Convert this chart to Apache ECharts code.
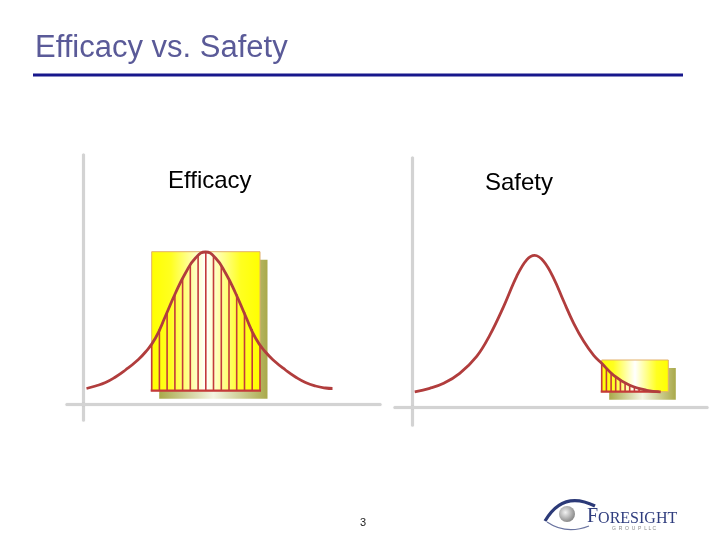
<!DOCTYPE html>
<html>
<head>
<meta charset="utf-8">
<title>Efficacy vs. Safety</title>
<script src="https://cdn.jsdelivr.net/npm/echarts@6.0.0/dist/echarts.min.js"></script>
<style>
html, body { margin: 0; padding: 0; background: #fff; }
#main { width: 720px; height: 540px; }
</style>
</head>
<body>
<div id="main"></div>
<script>
var efficacyX = [0.3, 1.2, 2.2, 3.2, 4.2, 5.2, 6.2, 7.2, 8.2, 9.2, 10.2, 11.2, 12.2,
    13.2, 14.2, 15.2, 16.2, 17.2, 18.2, 19.2, 20.2, 21.2, 22.2, 23.2, 24.2, 24.9];
var efficacyY = [1.55, 1.8, 2.15, 2.7, 3.4, 4.2, 5.2, 6.6, 8.8, 11.1, 13.1, 14.6, 15.2,
    14.6, 13.1, 11.1, 8.8, 6.6, 5.2, 4.2, 3.4, 2.7, 2.15, 1.8, 1.6, 1.55];
// [xFrom, xTo, yFrom, yTo]
var efficacyBox = [6.82, 17.65, 1.33, 15.23];
var efficacyHatchX = [6.82, 7.59, 8.36, 9.14, 9.91, 10.68, 11.46, 12.23, 13.0, 13.78, 14.55, 15.32, 16.1, 16.87, 17.65];
var efficacyHatchY = [6.0, 7.5, 9.2, 11.0, 12.5, 13.8, 14.8, 15.2, 14.8, 13.8, 12.5, 11.0, 9.2, 7.5, 5.9];

var safetyX = [0.2, 1.7, 3.1, 4.7, 6.4, 7.7, 9.1, 10.4, 11.4, 12.2, 13.1, 14.1, 15.1,
    16.1, 17.1, 18.1, 18.9, 20.1, 21.7, 23.4, 24.8];
var safetyY = [1.55, 1.9, 2.4, 3.4, 5.1, 7.2, 10.1, 13.1, 14.75, 15.2, 14.6, 12.9, 10.6,
    8.4, 6.6, 5.2, 4.4, 3.2, 2.2, 1.7, 1.55];
var safetyBox = [18.9, 25.56, 1.56, 4.73];
var safetyHatchX = [18.9, 19.37, 19.84, 20.3, 20.77, 21.24, 21.7, 22.17, 22.64, 23.1, 23.57, 24.04, 24.5];
var safetyHatchY = [4.4, 3.93, 3.46, 3.05, 2.78, 2.5, 2.2, 2.05, 1.92, 1.79, 1.68, 1.62, 1.58];

var chartTitles = ['Efficacy', 'Safety'];
var slideTitle = 'Efficacy vs. Safety';
var pageNo = '3';

var curveColor = '#b13d3d';
var hatchColor = '#c43a3a';

function pairs(xs, ys) {
    return xs.map(function(x, i) {
        return [x, ys[i]];
    });
}

var boxFill = new echarts.graphic.LinearGradient(0, 0, 1, 0, [
    {offset: 0, color: '#ffff00'},
    {offset: 0.18, color: '#ffff20'},
    {offset: 0.5, color: '#ffffff'},
    {offset: 0.82, color: '#ffff20'},
    {offset: 1, color: '#ffff00'}
]);
var shadowFill = new echarts.graphic.LinearGradient(0, 0, 1, 0, [
    {offset: 0, color: '#a9a94a'},
    {offset: 0.5, color: '#f4f4e2'},
    {offset: 1, color: '#a9a94a'}
]);

function renderBox(params, api) {
    var p0 = api.coord([api.value(0), api.value(3)]);
    var p1 = api.coord([api.value(1), api.value(2)]);
    var w = p1[0] - p0[0];
    var h = p1[1] - p0[1];
    return {
        type: 'group',
        children: [{
            type: 'rect',
            shape: {x: p0[0] + 7.5, y: p0[1] + 8, width: w, height: h},
            style: {fill: shadowFill}
        }, {
            type: 'rect',
            shape: {x: p0[0], y: p0[1], width: w, height: h},
            style: {fill: boxFill, stroke: '#e2b06a', lineWidth: 1}
        }]
    };
}

function hatchRenderer(xs, base) {
    return function(params, api) {
        var top = api.coord([api.value(0), api.value(1)]);
        var bot = api.coord([api.value(0), base]);
        var children = [{
            type: 'line',
            shape: {x1: top[0], y1: top[1], x2: bot[0], y2: bot[1]},
            style: {stroke: hatchColor, lineWidth: 1.6}
        }];
        if (params.dataIndex === 0) {
            // bottom edge of the hatched area
            var end = api.coord([xs[xs.length - 1], base]);
            children.push({
                type: 'line',
                shape: {x1: bot[0] - 1, y1: bot[1], x2: end[0] + 1, y2: end[1]},
                style: {stroke: hatchColor, lineWidth: 2.2}
            });
        }
        return {type: 'group', children: children};
    };
}

var axisStyle = {
    show: true,
    onZero: true,
    lineStyle: {color: '#d3d3d3', width: 3, shadowColor: 'rgba(0,0,0,0.18)', shadowBlur: 1}
};

function valueAxis(idx, min, max) {
    return {
        type: 'value',
        gridIndex: idx,
        min: min,
        max: max,
        axisLine: axisStyle,
        axisTick: {show: false},
        axisLabel: {show: false},
        splitLine: {show: false}
    };
}

var chart = echarts.init(document.getElementById('main'), null, {renderer: 'canvas'});

var option = {
    backgroundColor: '#ffffff',
    animation: false,
    title: [{
        text: slideTitle,
        left: 30,
        top: 28,
        textStyle: {fontFamily: 'Liberation Sans, Arial, sans-serif', fontSize: 31, fontWeight: 'normal', color: '#5a5a98'}
    }, {
        text: chartTitles[0],
        left: 163,
        top: 164,
        textStyle: {fontFamily: 'Liberation Sans, Arial, sans-serif', fontSize: 24, fontWeight: 'normal', color: '#000'}
    }, {
        text: chartTitles[1],
        left: 480,
        top: 166,
        textStyle: {fontFamily: 'Liberation Sans, Arial, sans-serif', fontSize: 24, fontWeight: 'normal', color: '#000'}
    }, {
        text: pageNo,
        left: 355,
        top: 512,
        textStyle: {fontFamily: 'Liberation Sans, Arial, sans-serif', fontSize: 11, fontWeight: 'normal', color: '#222'}
    }],
    grid: [
        {left: 67, top: 155, width: 313, height: 265},
        {left: 395, top: 158, width: 312, height: 267}
    ],
    xAxis: [valueAxis(0, -1.65, 29.65), valueAxis(1, -1.77, 29.43)],
    yAxis: [valueAxis(0, -1.6, 24.9), valueAxis(1, -1.77, 24.93)],
    series: [{
        type: 'custom',
        xAxisIndex: 0,
        yAxisIndex: 0,
        z: 1,
        renderItem: renderBox,
        encode: {x: [0, 1], y: [2, 3]},
        data: [efficacyBox]
    }, {
        type: 'custom',
        xAxisIndex: 0,
        yAxisIndex: 0,
        z: 2,
        renderItem: hatchRenderer(efficacyHatchX, efficacyBox[2]),
        data: pairs(efficacyHatchX, efficacyHatchY)
    }, {
        type: 'line',
        xAxisIndex: 0,
        yAxisIndex: 0,
        z: 3,
        smooth: true,
        showSymbol: false,
        lineStyle: {color: curveColor, width: 2.8},
        data: pairs(efficacyX, efficacyY)
    }, {
        type: 'custom',
        xAxisIndex: 1,
        yAxisIndex: 1,
        z: 1,
        renderItem: renderBox,
        encode: {x: [0, 1], y: [2, 3]},
        data: [safetyBox]
    }, {
        type: 'custom',
        xAxisIndex: 1,
        yAxisIndex: 1,
        z: 2,
        renderItem: hatchRenderer(safetyHatchX, safetyBox[2]),
        data: pairs(safetyHatchX, safetyHatchY)
    }, {
        type: 'line',
        xAxisIndex: 1,
        yAxisIndex: 1,
        z: 3,
        smooth: 0.4,
        showSymbol: false,
        lineStyle: {color: curveColor, width: 2.8},
        data: pairs(safetyX, safetyY)
    }],
    graphic: [{
        // rule under the slide title
        type: 'line',
        shape: {x1: 33, y1: 75, x2: 683, y2: 75},
        style: {stroke: '#17178c', lineWidth: 3}
    }, {
        // company logo, bottom right
        type: 'group',
        children: [{
            type: 'bezierCurve',
            shape: {x1: 545, y1: 521, cpx1: 563, cpy1: 490, x2: 595, y2: 506},
            style: {fill: null, stroke: '#2c3a78', lineWidth: 3.2}
        }, {
            type: 'bezierCurve',
            shape: {x1: 547, y1: 522, cpx1: 566, cpy1: 535, x2: 589, y2: 526},
            style: {fill: null, stroke: '#6a74a0', lineWidth: 1.2}
        }, {
            type: 'circle',
            shape: {cx: 567, cy: 514, r: 8},
            style: {
                fill: new echarts.graphic.RadialGradient(0.4, 0.4, 0.7, [
                    {offset: 0, color: '#f2f2f2'},
                    {offset: 1, color: '#7b7b7b'}
                ])
            }
        }, {
            type: 'text',
            x: 587,
            y: 507,
            style: {
                text: '{a|F}{b|ORESIGHT}',
                rich: {
                    a: {fontFamily: 'Liberation Serif, serif', fontSize: 20, fill: '#2f3d7e', verticalAlign: 'bottom'},
                    b: {fontFamily: 'Liberation Serif, serif', fontSize: 16, fill: '#2f3d7e', verticalAlign: 'bottom'}
                }
            }
        }, {
            type: 'text',
            x: 612,
            y: 526,
            style: {
                text: 'G  R  O  U  P  L L C',
                fontFamily: 'Liberation Sans, sans-serif',
                fontSize: 5,
                fill: '#8a8a8a'
            }
        }]
    }]
};

chart.setOption(option);
</script>
</body>
</html>
